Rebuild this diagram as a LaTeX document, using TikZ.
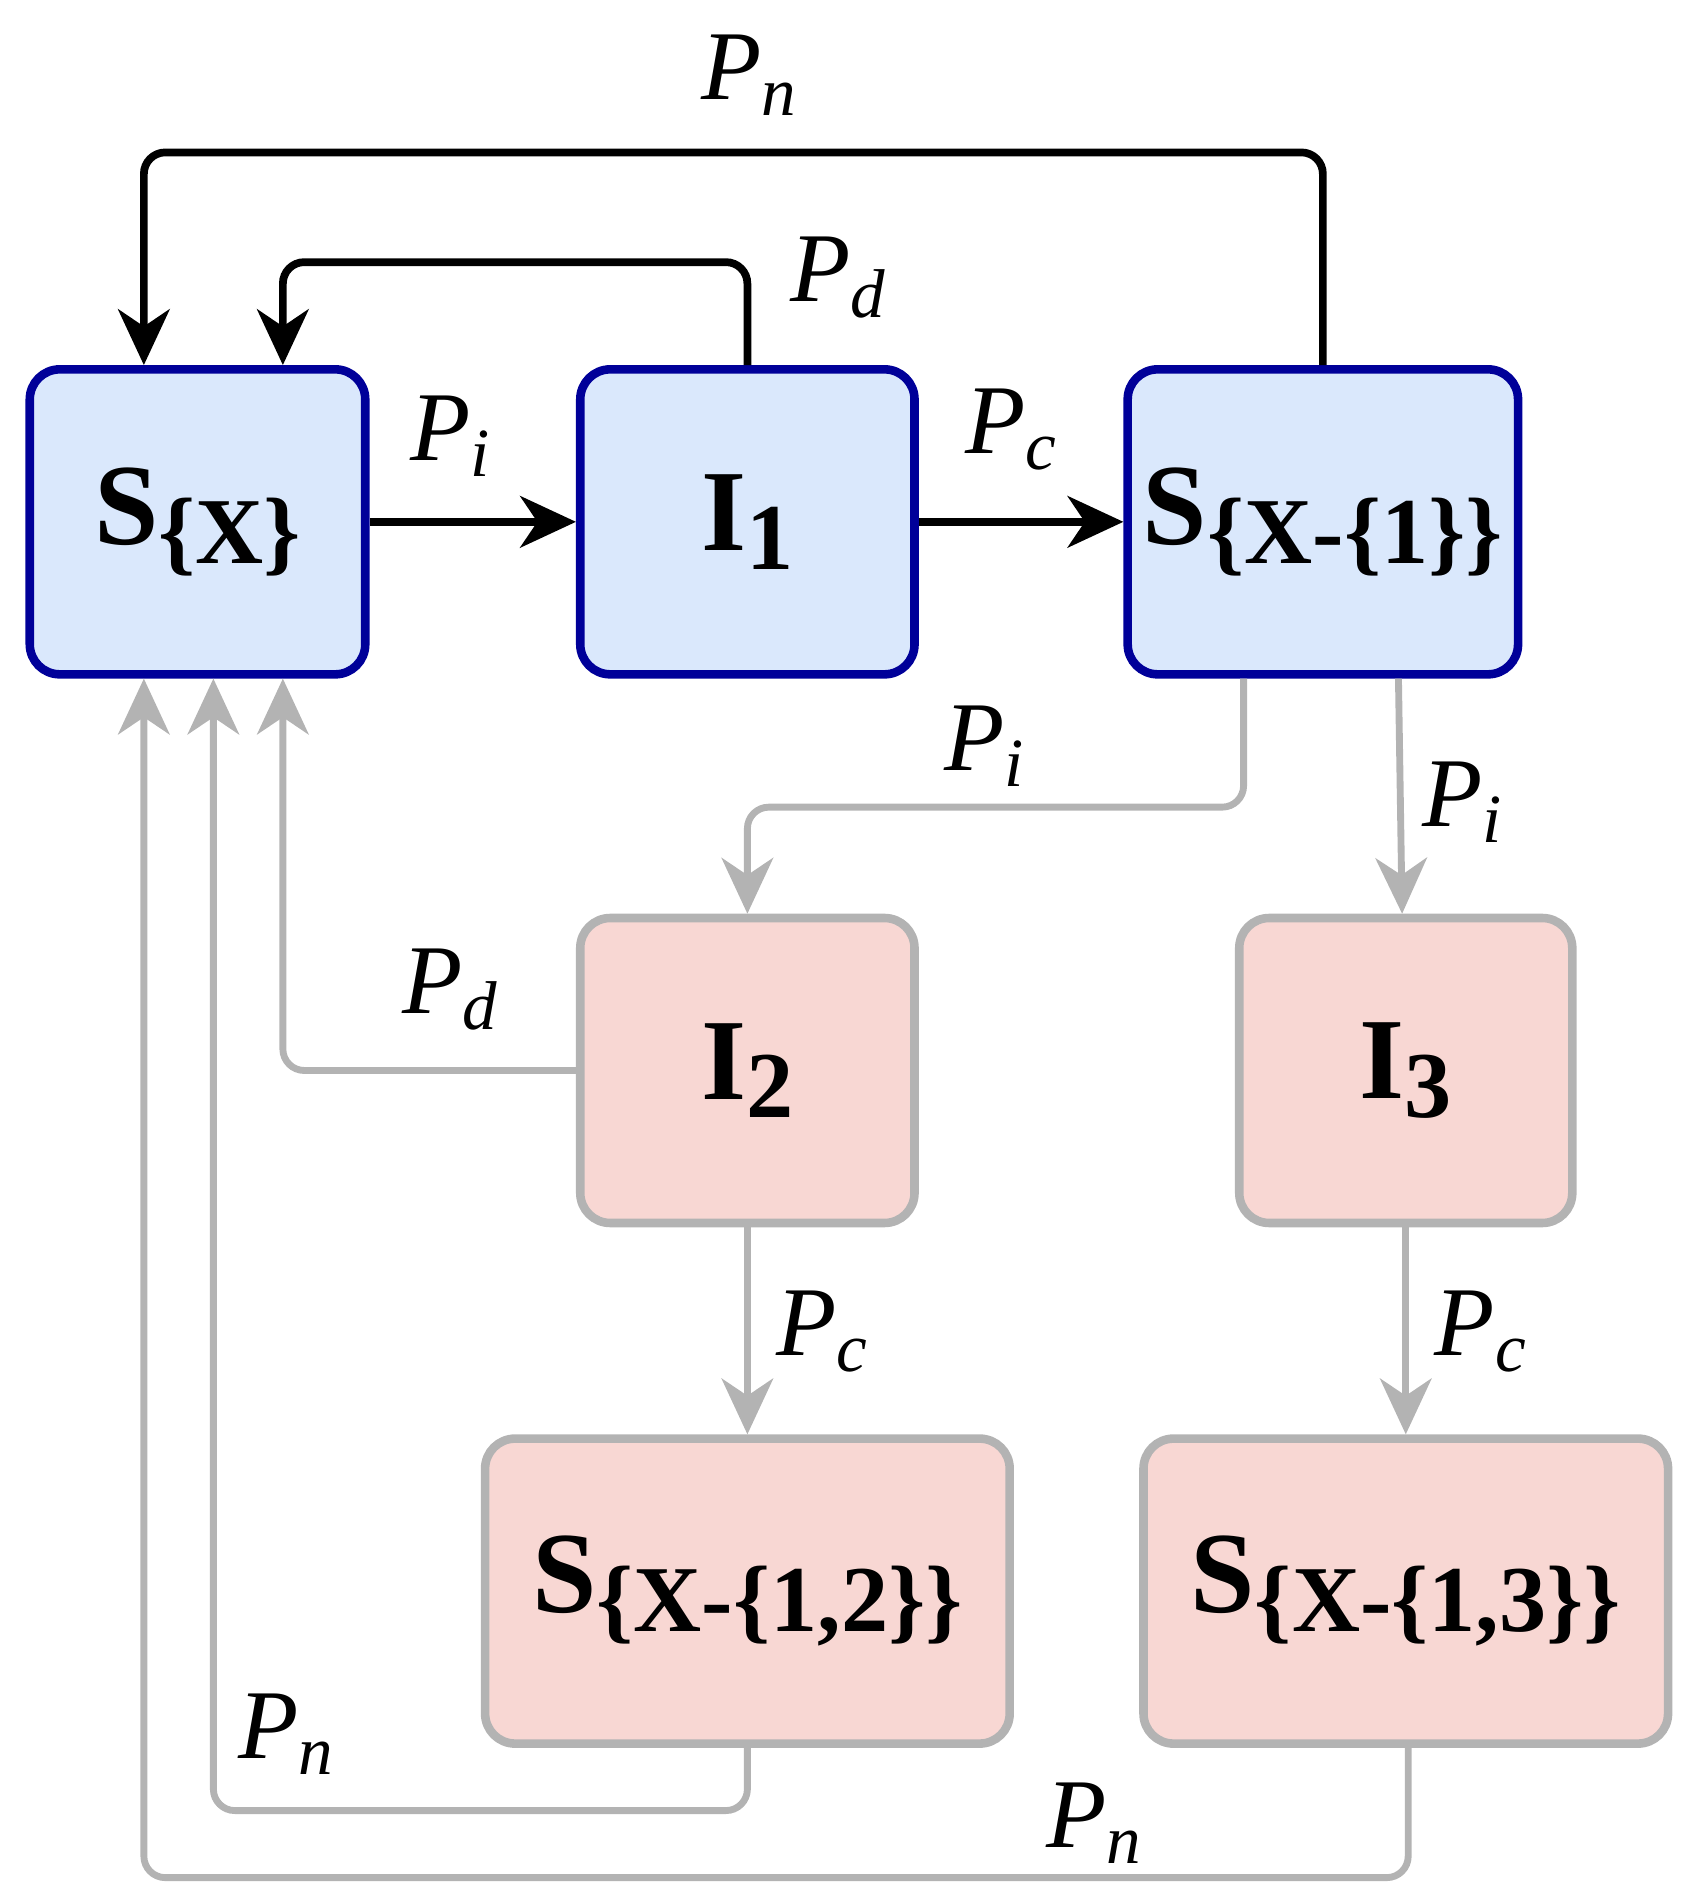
\documentclass[tikz,border=0pt]{standalone}
\usepackage{fontspec}
\setmainfont{Liberation Serif}
\usetikzlibrary{positioning}
\usetikzlibrary{arrows.meta}
\definecolor{boxblue}{HTML}{DAE8FC}
\definecolor{edgeblue}{HTML}{000099}
\definecolor{boxpink}{HTML}{F8D7D3}
\definecolor{edgegray}{HTML}{B3B3B3}
\newcommand{\lab}[1]{\textit{P}\textsubscript{\textit{#1}}}
\newcommand{\sub}[1]{\raisebox{-0.35ex}{\fontsize{22}{24}\selectfont #1}}
\begin{document}
\begin{tikzpicture}[x=0.01cm, y=-0.01cm]
% -------------------------------------------------
\tikzset{
  base/.style={rounded corners=7pt, line width=2pt, align=center,
    minimum height=2.5cm, inner sep=0pt, font=\fontsize{27}{30}\selectfont\bfseries},
  blue/.style={base, draw=edgeblue, fill=boxblue},
  pink/.style={base, draw=edgegray, fill=boxpink},
  line/.style={draw, line width=1.8pt, rounded corners=5pt, -{Stealth[length=13pt,width=12pt,inset=4pt]}},
  gline/.style={line, draw=edgegray, line width=1.6pt},
  glab/.style={font=\fontsize{23}{25}\selectfont}
}
\useasboundingbox (0,0) rectangle (1390,1560);
% -------------------------------------------------
% Placing the nodes
\node [blue, minimum width=2.75cm] (sx) at (162,428) {S\sub{\{X\}}};
\node [blue, minimum width=2.74cm] (ione) at (613,428) {I\sub{1}};
\node [blue, minimum width=3.2cm] (sone) at (1085,428) {S\sub{\{X-\{1\}\}}};
\node [pink, minimum width=2.74cm] (itwo) at (613,878) {I\sub{2}};
\node [pink, minimum width=2.73cm] (ithree) at (1153,878) {I\sub{3}};
\node [pink, minimum width=4.3cm] (stwo) at (613,1305) {S\sub{\{X-\{1,2\}\}}};
\node [pink, minimum width=4.3cm] (sthree) at (1153,1305) {S\sub{\{X-\{1,3\}\}}};

% black connectors
\path [line] (sx) -- (ione);
\path [line] (ione) -- (sone);
\path [line] (sone.north) -- (1085,125) -- (118,125) -- (sx.north -| 118,0);
\path [line] (ione.north) -- (613,215) -- (232,215) -- (sx.north -| 232,0);

% gray connectors
\path [gline] (sone.south -| 1020,0) -- (1020,662) -- (613,662) -- (itwo.north);
\path [gline] (sone.south -| 1147,0) -- (ithree.north -| 1150,0);
\path [gline] (itwo.west) -- (232,878) -- (sx.south -| 232,0);
\path [gline] (itwo) -- (stwo);
\path [gline] (ithree) -- (sthree);
\path [gline] (stwo.south) -- (613,1485) -- (175,1485) -- (sx.south -| 175,0);
\path [gline] (sthree.south -| 1155,0) -- (1155,1540) -- (118,1540) -- (sx.south -| 118,0);

% labels
\node [glab] (ln1) at (615,62) {\lab{n}};
\node [glab] (ld1) at (688,228) {\lab{d}};
\node [glab] (li1) at (370,358) {\lab{i}};
\node [glab] (lc1) at (830,352) {\lab{c}};
\node [glab] (li2) at (808,612) {\lab{i}};
\node [glab] (li3) at (1200,658) {\lab{i}};
\node [glab] (ld2) at (370,812) {\lab{d}};
\node [glab] (lc2) at (675,1092) {\lab{c}};
\node [glab] (lc3) at (1215,1092) {\lab{c}};
\node [glab] (ln2) at (235,1422) {\lab{n}};
\node [glab] (ln3) at (898,1495) {\lab{n}};
\end{tikzpicture}
\end{document}
